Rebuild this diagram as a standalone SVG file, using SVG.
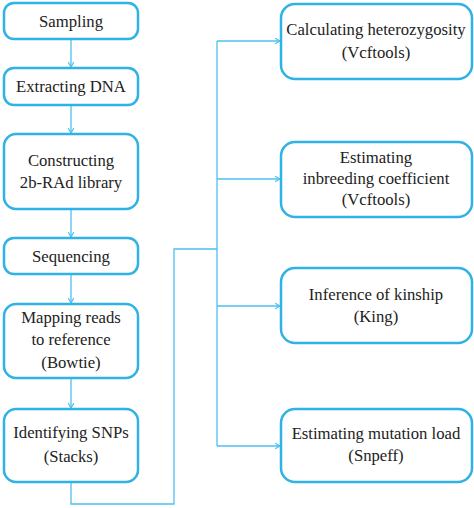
<svg xmlns="http://www.w3.org/2000/svg" width="474" height="508" viewBox="0 0 474 508">
<style>
.box{fill:#fff;stroke:#2fb2e6;stroke-width:2.5}
.t{font-family:'Liberation Serif','Times New Roman',serif;font-size:16.7px;fill:#222;text-anchor:middle}
.c{fill:none;stroke:#4cc0ee;stroke-width:1.3}
</style>
<defs>
<marker id="ah" viewBox="0 0 10 10" refX="9" refY="5" markerWidth="7" markerHeight="7" markerUnits="userSpaceOnUse" orient="auto">
<path d="M2,1 L9,5 L2,9" fill="none" stroke="#4cc0ee" stroke-width="1.6"/>
</marker>
</defs>
<rect width="474" height="508" fill="#fff"/>
<g id="connectors">
<path class="c" d="M71,39 V67" marker-end="url(#ah)"/>
<path class="c" d="M71,105 V133" marker-end="url(#ah)"/>
<path class="c" d="M71,209 V237" marker-end="url(#ah)"/>
<path class="c" d="M71,274 V303" marker-end="url(#ah)"/>
<path class="c" d="M71,378 V408" marker-end="url(#ah)"/>
<path class="c" d="M71,482 V504 H174 V249 H217"/>
<path class="c" d="M217,41 V446"/>
<path class="c" d="M217,41 H280" marker-end="url(#ah)"/>
<path class="c" d="M217,179 H280" marker-end="url(#ah)"/>
<path class="c" d="M217,306 H280" marker-end="url(#ah)"/>
<path class="c" d="M217,446 H280" marker-end="url(#ah)"/>
</g>
<g id="sampling"><rect class="box" x="4" y="3" width="134" height="36" rx="10"/><text class="t" x="71" y="27">Sampling</text></g>
<g id="extracting"><rect class="box" x="4" y="68" width="134" height="37" rx="10"/><text class="t" x="71" y="92">Extracting DNA</text></g>
<g id="constructing"><rect class="box" x="4" y="134" width="134" height="75" rx="12"/><text class="t" x="71" y="166">Constructing</text><text class="t" x="71" y="188">2b-RAd library</text></g>
<g id="sequencing"><rect class="box" x="4" y="238" width="134" height="36" rx="10"/><text class="t" x="71" y="262">Sequencing</text></g>
<g id="mapping"><rect class="box" x="4" y="304" width="134" height="74" rx="12"/><text class="t" x="71" y="323">Mapping reads</text><text class="t" x="71" y="345">to reference</text><text class="t" x="71" y="368">(Bowtie)</text></g>
<g id="identifying"><rect class="box" x="4" y="409" width="134" height="73" rx="12"/><text class="t" x="71" y="438">Identifying SNPs</text><text class="t" x="71" y="462">(Stacks)</text></g>
<g id="heterozygosity"><rect class="box" x="281" y="4" width="191" height="75" rx="14"/><text class="t" x="376" y="35">Calculating heterozygosity</text><text class="t" x="376" y="58">(Vcftools)</text></g>
<g id="inbreeding"><rect class="box" x="281" y="142" width="191" height="75" rx="14"/><text class="t" x="376" y="163">Estimating</text><text class="t" x="376" y="184">inbreeding coefficient</text><text class="t" x="376" y="205">(Vcftools)</text></g>
<g id="kinship"><rect class="box" x="281" y="268" width="191" height="75" rx="14"/><text class="t" x="376" y="300">Inference of kinship</text><text class="t" x="376" y="322">(King)</text></g>
<g id="mutation"><rect class="box" x="281" y="409" width="191" height="73" rx="14"/><text class="t" x="376" y="439">Estimating mutation load</text><text class="t" x="376" y="461">(Snpeff)</text></g>
</svg>
